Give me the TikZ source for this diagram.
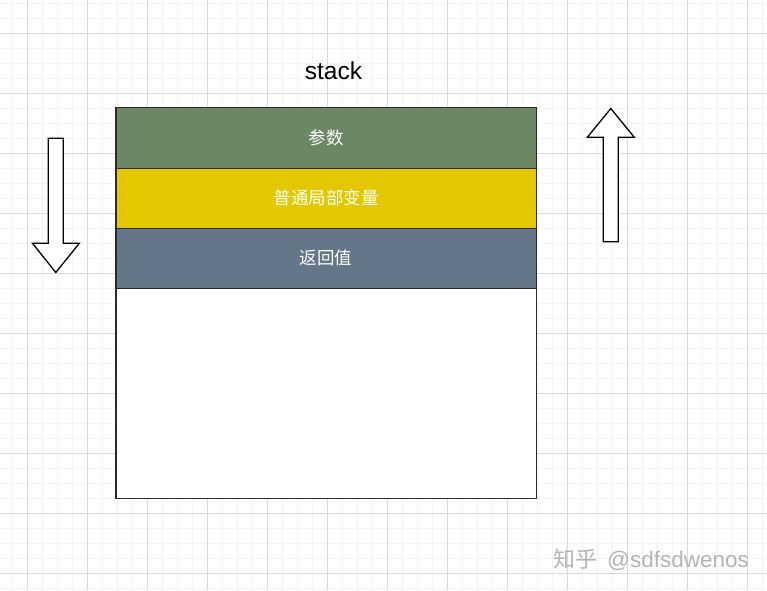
\documentclass[tikz,border=0pt]{standalone}
\usepackage{fontspec}
\setmainfont{Liberation Sans}
\newfontfamily\cjk{Noto Sans CJK SC}
\definecolor{gridmajor}{HTML}{D9D9D9}
\definecolor{gridminor}{HTML}{F3F3F3}
\definecolor{bandgreen}{HTML}{6D8764}
\definecolor{bandyellow}{HTML}{E3C800}
\definecolor{bandblue}{HTML}{647687}
\definecolor{boxline}{HTML}{2A2A2A}
\definecolor{wmark}{HTML}{B4B4B4}
\begin{document}
\begin{tikzpicture}[x=1pt,y=-1pt,
  band/.style={rectangle, minimum width=420pt, minimum height=60pt, inner sep=0pt, draw=none, text=white, font=\cjk\fontsize{17.5}{20}\selectfont, anchor=north west},
  hollowarrow/.style={draw=black, line width=1.3pt, fill=white, line join=miter}]
\useasboundingbox (0,0) rectangle (767,590);
\fill[white] (0,0) rectangle (767,590);
% grid
\foreach \x in {12,27,...,767} \draw[gridminor, line width=0.6pt] (\x,0) -- (\x,590);
\foreach \y in {3,18,...,590} \draw[gridminor, line width=0.6pt] (0,\y) -- (767,\y);
\foreach \x in {27,87,...,767} \draw[gridmajor, line width=0.8pt] (\x,0) -- (\x,590);
\foreach \y in {33,93,...,590} \draw[gridmajor, line width=0.8pt] (0,\y) -- (767,\y);
% title
\node[font=\fontsize{24.5}{28}\selectfont, anchor=base] (title) at (333.5,79.5) {stack};
% stack box
\node[band, fill=bandgreen] (params) at (116,107.5) {参数};
\node[band, fill=bandyellow, minimum height=60.5pt] (locals) at (116,167.5) {普通局部变量};
\node[band, fill=bandblue] (ret) at (116,228) {返回值};
\node[rectangle, minimum width=420pt, minimum height=210pt, inner sep=0pt, anchor=north west, fill=white] (rest) at (116,288) {};
\draw[boxline, line width=1.1pt] (params.north west) rectangle (rest.south east);
\draw[boxline, line width=0.6pt] (params.south west) -- (params.south east);
\draw[boxline, line width=0.6pt] (locals.south west) -- (locals.south east);
\draw[boxline, line width=0.8pt] (ret.south west) -- (ret.south east);
% down arrow
\draw[hollowarrow] (48.3,138.3) -- (63.3,138.3) -- (63.3,243.3) -- (79.3,243.3) -- (55.8,272.5) -- (32.5,243.3) -- (48.3,243.3) -- cycle;
% up arrow
\draw[hollowarrow] (603.3,241.7) -- (618.3,241.7) -- (618.3,137.3) -- (634.3,137.3) -- (610.8,108.5) -- (587.3,137.3) -- (603.3,137.3) -- cycle;
% watermark
\node[text=wmark, anchor=west, inner sep=0pt] (wm) at (553,560) {{\cjk\fontsize{22}{26}\selectfont 知乎}\hspace{10pt}{\fontsize{22.5}{26}\selectfont @sdfsdwenos}};
\end{tikzpicture}
\end{document}
